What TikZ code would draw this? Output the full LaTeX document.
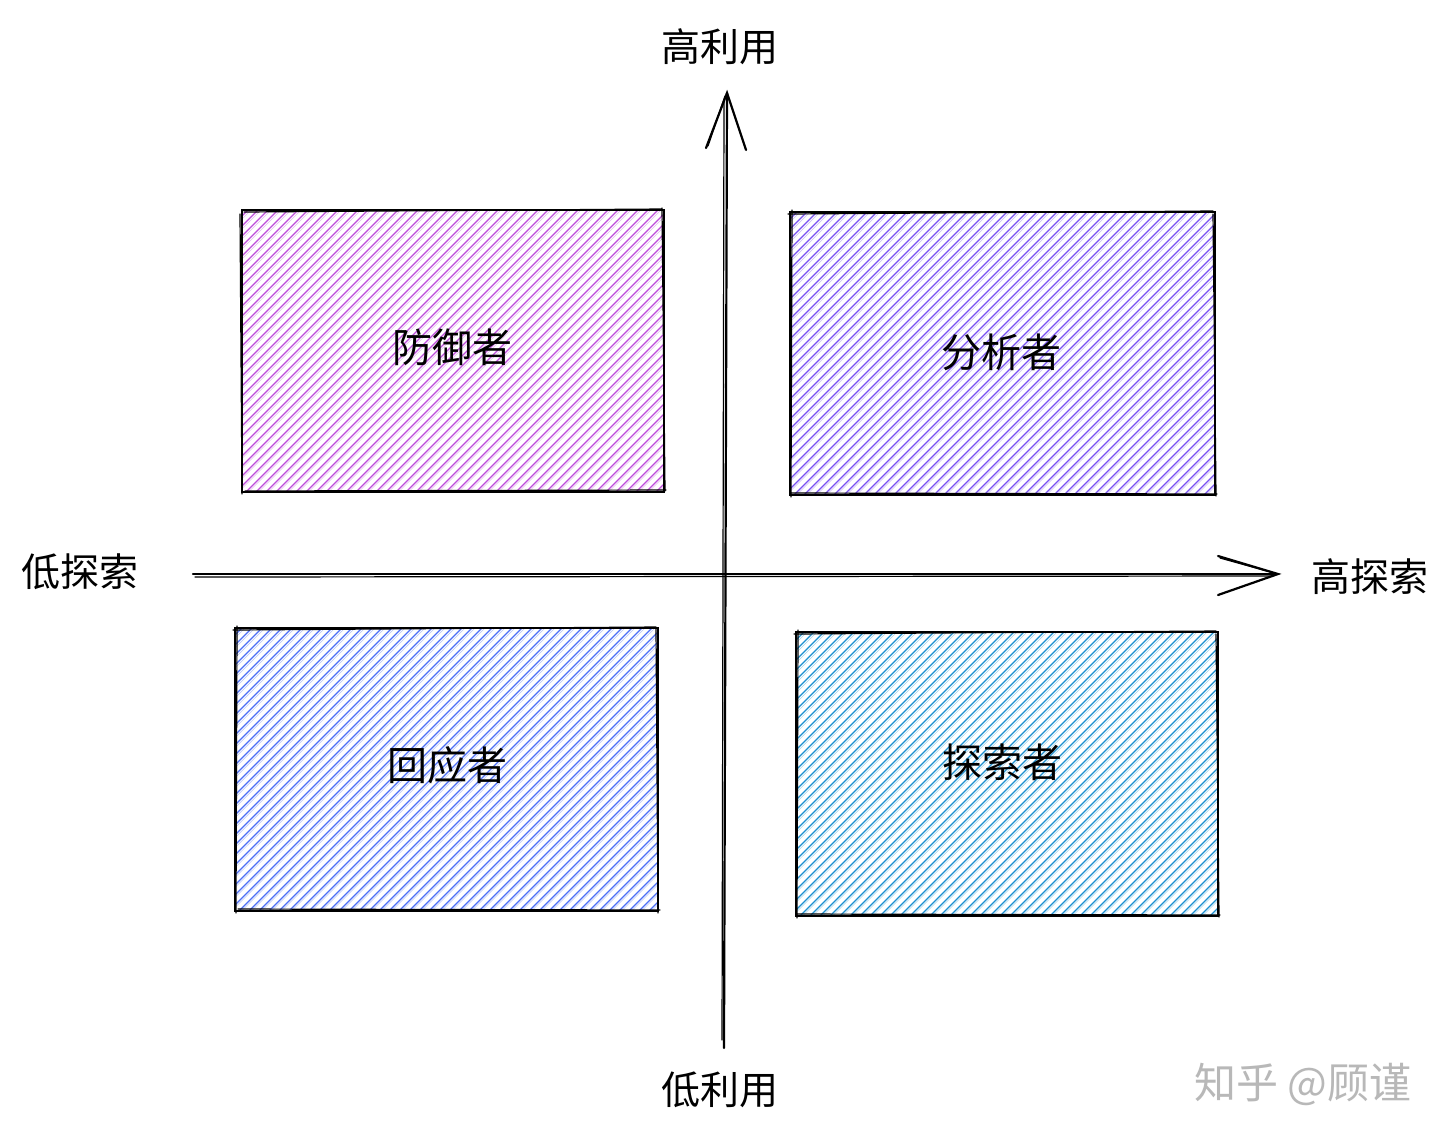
\documentclass[tikz,border=0pt]{standalone}
\usepackage{fontspec}
\setmainfont{Noto Sans CJK SC}
\definecolor{cgrape}{HTML}{BE4BDB}
\definecolor{cviolet}{HTML}{7950F2}
\definecolor{cindigo}{HTML}{4C6EF5}
\definecolor{cblue}{HTML}{1C8FCF}
\definecolor{wmark}{HTML}{B8B8B8}
\newcommand\myhatch[5]{%
  \begin{scope}
    \clip (#1,#2) rectangle (#3,#4);
    \pgfmathsetmacro\hh{#4-#2}
    \foreach \d in {-300,-290,...,440} {
      \draw[#5, line width=0.6pt] (#1+\d,#4+4) -- (#1+\d+\hh+8,#2-4);
      \draw[#5, line width=0.25pt, opacity=0.4] (#1+\d+2.5,#4+4) -- (#1+\d+\hh+11,#2-4);
    }
  \end{scope}}
\begin{document}
\begin{tikzpicture}[x=0.5pt,y=-0.5pt,
  roughline/.style={line width=1.1pt, black, line cap=round},
  thinrough/.style={line width=0.6pt, black, line cap=round},
  boxlabel/.style={font=\fontsize{20pt}{24pt}\selectfont, inner sep=0pt},
  axislabel/.style={font=\fontsize{19.5pt}{23pt}\selectfont, inner sep=0pt}]
\useasboundingbox (0,0) rectangle (1454,1142);
\fill[white] (0,0) rectangle (1454,1142);

% hatching
\myhatch{242}{210}{664}{492}{cgrape}
\myhatch{790}{212}{1215}{495}{cviolet}
\myhatch{235}{628}{658}{911}{cindigo}
\myhatch{796}{632}{1218}{916}{cblue}

% boxes
\draw[roughline] (242,210) rectangle (664,492);
\draw[thinrough] (244,212) -- (662,209) (240,214) -- (242,494) (662,208) -- (665,491) (245,491) -- (666,490);
\draw[roughline] (790,212) rectangle (1215,495);
\draw[thinrough] (788,214) -- (1213,211) (792,210) -- (791,497) (1213,214) -- (1216,496) (792,493) -- (1217,494);
\draw[roughline] (235,628) rectangle (658,911);
\draw[thinrough] (233,630) -- (656,627) (237,626) -- (236,913) (656,629) -- (658,913) (238,909) -- (660,910);
\draw[roughline] (796,632) rectangle (1218,916);
\draw[thinrough] (794,634) -- (1216,631) (798,630) -- (797,918) (1216,634) -- (1219,917) (798,914) -- (1220,915);

% labels in boxes
\node[boxlabel] (defender) at (452,347) {防御者};
\node[boxlabel] (analyst) at (1001,352) {分析者};
\node[boxlabel] (responder) at (447,765) {回应者};
\node[boxlabel] (explorer) at (1002,762) {探索者};

% axes
\coordinate (vbot) at (724,1048);
\coordinate (vtop) at (727,93);
\coordinate (vtop2) at (724,100);
\coordinate (vla) at (706,148);
\coordinate (vra) at (746,150);
\draw[roughline] (vbot) -- (vtop);
\draw[thinrough] (722,1040) -- (vtop2);
\draw[roughline] (vla) -- (vtop) -- (vra);
\draw[thinrough] (708,146) -- (725,96);

\coordinate (hleft) at (193,574);
\coordinate (hright) at (1278,574);
\coordinate (hua) at (1218,556);
\coordinate (hda) at (1218,595);
\draw[roughline] (hleft) -- (hright);
\draw[thinrough] (195,577) -- (1272,576);
\draw[roughline] (hua) -- (hright) -- (hda);
\draw[thinrough] (1220,558) -- (1274,573);

% axis labels
\node[axislabel] (hiexploit) at (720,47) {高利用};
\node[axislabel] (loexploit) at (720,1090) {低利用};
\node[axislabel] (loexplore) at (80,572) {低探索};
\node[axislabel] (hiexplore) at (1370,577) {高探索};

% watermark
\node[font=\fontsize{21pt}{25pt}\selectfont, text=wmark, inner sep=0pt] (wm) at (1303,1084) {知乎 @顾谨};
\end{tikzpicture}
\end{document}
